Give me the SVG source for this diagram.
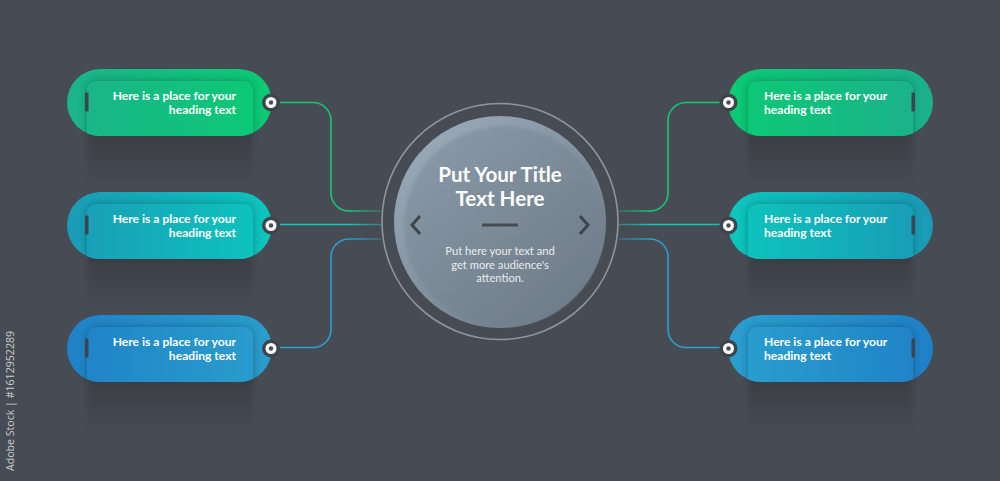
<svg xmlns="http://www.w3.org/2000/svg" width="1000" height="481" viewBox="0 0 1000 481">
  <style>
    .head { font-family: Lato, "Open Sans", "Liberation Sans", sans-serif; font-weight: 700; font-size: 12.1px; fill: #ffffff; }
    .title { font-family: Lato, "Open Sans", "Liberation Sans", sans-serif; font-weight: 700; font-size: 20.6px; fill: #ffffff; text-anchor: middle; }
    .body { font-family: Lato, "Open Sans", "Liberation Sans", sans-serif; font-weight: 400; font-size: 11.2px; fill: #e8ebee; text-anchor: middle; }
    .conn { fill: none; stroke-width: 1.6; }
    .bar { fill: #3e444d; }
    .ringo { fill: #3f444c; }
    .ringw { fill: #ffffff; }
    .ringi { fill: #474c54; }
    .stamp { font-family: "Open Sans", "Liberation Sans", sans-serif; font-size: 10.6px; fill: #c9cdd1; }
  </style>
  <defs>
    <linearGradient id="gL1" gradientUnits="userSpaceOnUse" x1="0" y1="0" x2="205" y2="0"><stop offset="0" stop-color="#1cb38b"/><stop offset="1" stop-color="#0bca74"/></linearGradient>
    <linearGradient id="gL2" gradientUnits="userSpaceOnUse" x1="0" y1="0" x2="205" y2="0"><stop offset="0" stop-color="#1a9cb7"/><stop offset="1" stop-color="#0cc6bd"/></linearGradient>
    <linearGradient id="gL3" gradientUnits="userSpaceOnUse" x1="0" y1="0" x2="205" y2="0"><stop offset="0" stop-color="#1f82c8"/><stop offset="1" stop-color="#2a9ecc"/></linearGradient>
    <linearGradient id="gR1" gradientUnits="userSpaceOnUse" x1="0" y1="0" x2="205" y2="0"><stop offset="0" stop-color="#0bca74"/><stop offset="1" stop-color="#1cb08d"/></linearGradient>
    <linearGradient id="gR2" gradientUnits="userSpaceOnUse" x1="0" y1="0" x2="205" y2="0"><stop offset="0" stop-color="#0cc7bd"/><stop offset="1" stop-color="#1a99b6"/></linearGradient>
    <linearGradient id="gR3" gradientUnits="userSpaceOnUse" x1="0" y1="0" x2="205" y2="0"><stop offset="0" stop-color="#2aa0cf"/><stop offset="1" stop-color="#1f80c7"/></linearGradient>
    <linearGradient id="under" x1="0" y1="0" x2="0" y2="1"><stop offset="0" stop-color="#000" stop-opacity="0.2"/><stop offset="1" stop-color="#000" stop-opacity="0"/></linearGradient>
    <clipPath id="pillClip"><rect x="0" y="0" width="205" height="67" rx="33.5"/></clipPath>
    <filter id="soft" x="-20%" y="-30%" width="140%" height="160%"><feGaussianBlur stdDeviation="3"/></filter>
    <filter id="soft2" x="-20%" y="-30%" width="140%" height="160%"><feGaussianBlur stdDeviation="4"/></filter>
    <filter id="blur1" x="-10%" y="-10%" width="120%" height="120%"><feGaussianBlur stdDeviation="1.5"/></filter>
    <linearGradient id="cGL" gradientUnits="userSpaceOnUse" x1="350" y1="0" x2="382" y2="0"><stop offset="0" stop-color="#13c775"/><stop offset="1" stop-color="#13c775" stop-opacity="0.35"/></linearGradient>
    <linearGradient id="cTL" gradientUnits="userSpaceOnUse" x1="350" y1="0" x2="382" y2="0"><stop offset="0" stop-color="#14c2bd"/><stop offset="1" stop-color="#14c2bd" stop-opacity="0.45"/></linearGradient>
    <linearGradient id="cBL" gradientUnits="userSpaceOnUse" x1="350" y1="0" x2="382" y2="0"><stop offset="0" stop-color="#2aa0cc"/><stop offset="1" stop-color="#2aa0cc" stop-opacity="0.35"/></linearGradient>
    <linearGradient id="cGR" gradientUnits="userSpaceOnUse" x1="650" y1="0" x2="618" y2="0"><stop offset="0" stop-color="#13c775"/><stop offset="1" stop-color="#13c775" stop-opacity="0.35"/></linearGradient>
    <linearGradient id="cTR" gradientUnits="userSpaceOnUse" x1="650" y1="0" x2="618" y2="0"><stop offset="0" stop-color="#14c2bd"/><stop offset="1" stop-color="#14c2bd" stop-opacity="0.45"/></linearGradient>
    <linearGradient id="cBR" gradientUnits="userSpaceOnUse" x1="650" y1="0" x2="618" y2="0"><stop offset="0" stop-color="#2aa0cc"/><stop offset="1" stop-color="#2aa0cc" stop-opacity="0.35"/></linearGradient>
    <linearGradient id="disk" x1="0.15" y1="0.1" x2="0.85" y2="0.9"><stop offset="0" stop-color="#98a8b6"/><stop offset="1" stop-color="#6e7b88"/></linearGradient>
    <linearGradient id="disk2" x1="0.15" y1="0.1" x2="0.85" y2="0.9"><stop offset="0" stop-color="#8797a5"/><stop offset="1" stop-color="#6f7c89"/></linearGradient>
  </defs>

  <rect x="0" y="0" width="1000" height="481" fill="#474b53"/>

  <g id="connectors">
    <path class="conn" stroke="url(#cGL)" d="M 280 102.5 H 313 A 18 18 0 0 1 331 120.5 V 193 A 18 18 0 0 0 349 211 H 381"/>
    <path class="conn" stroke="url(#cTL)" d="M 280 224.5 H 381"/>
    <path class="conn" stroke="url(#cBL)" d="M 280 347.5 H 313 A 18 18 0 0 0 331 329.5 V 257 A 18 18 0 0 1 349 239 H 381"/>
    <path class="conn" stroke="url(#cGR)" d="M 720 102.5 H 686 A 18 18 0 0 0 668 120.5 V 193 A 18 18 0 0 1 650 211 H 619"/>
    <path class="conn" stroke="url(#cTR)" d="M 720 224.5 H 619"/>
    <path class="conn" stroke="url(#cBR)" d="M 720 347.5 H 686 A 18 18 0 0 1 668 329.5 V 257 A 18 18 0 0 0 650 239 H 619"/>
  </g>

  <g id="center">
    <circle cx="500" cy="221.5" r="118" fill="none" stroke="#8e959e" stroke-width="1.6"/>
    <circle cx="500" cy="222" r="106" fill="url(#disk)"/>
    <circle cx="504" cy="226" r="100" fill="url(#disk2)" filter="url(#blur1)"/>
    <text class="title" x="500" y="182">Put Your Title</text>
    <text class="title" x="500" y="206">Text Here</text>
    <line x1="482" y1="225" x2="518" y2="225" stroke="#474c54" stroke-width="3"/>
    <polyline points="420,216 412,225 420,234" fill="none" stroke="#3f454d" stroke-width="3"/>
    <polyline points="580,216 588,225 580,234" fill="none" stroke="#3f454d" stroke-width="3"/>
    <text class="body" x="500" y="255">Put here your text and</text>
    <text class="body" x="500" y="268.5">get more audience's</text>
    <text class="body" x="500" y="282">attention.</text>
  </g>

  <g id="card-left-1" transform="translate(67,69)">
    <rect x="20" y="60" width="166" height="58" fill="url(#under)" filter="url(#soft)"/>
    <rect x="0" y="0" width="205" height="67" rx="33.5" fill="url(#gL1)"/>
    <g clip-path="url(#pillClip)">
      <rect x="20" y="12" width="166" height="70" rx="9" fill="#000" opacity="0.28" filter="url(#soft2)"/>
      <rect x="20" y="12" width="166" height="70" rx="9" fill="url(#gL1)"/>
    </g>
    <rect class="bar" x="18" y="23.5" width="3.5" height="19" rx="1"/>
    <text class="head" x="169" y="30.5" text-anchor="end">Here is a place for your</text>
    <text class="head" x="169" y="44.5" text-anchor="end">heading text</text>
    <circle class="ringo" cx="204" cy="33.5" r="9"/>
    <circle class="ringw" cx="204" cy="33.5" r="5.5"/>
    <circle class="ringi" cx="204" cy="33.5" r="2.2"/>
  </g>
  <g id="card-left-2" transform="translate(67,192)">
    <rect x="20" y="60" width="166" height="58" fill="url(#under)" filter="url(#soft)"/>
    <rect x="0" y="0" width="205" height="67" rx="33.5" fill="url(#gL2)"/>
    <g clip-path="url(#pillClip)">
      <rect x="20" y="12" width="166" height="70" rx="9" fill="#000" opacity="0.28" filter="url(#soft2)"/>
      <rect x="20" y="12" width="166" height="70" rx="9" fill="url(#gL2)"/>
    </g>
    <rect class="bar" x="18" y="23.5" width="3.5" height="19" rx="1"/>
    <text class="head" x="169" y="30.5" text-anchor="end">Here is a place for your</text>
    <text class="head" x="169" y="44.5" text-anchor="end">heading text</text>
    <circle class="ringo" cx="204" cy="33.5" r="9"/>
    <circle class="ringw" cx="204" cy="33.5" r="5.5"/>
    <circle class="ringi" cx="204" cy="33.5" r="2.2"/>
  </g>
  <g id="card-left-3" transform="translate(67,315)">
    <rect x="20" y="60" width="166" height="58" fill="url(#under)" filter="url(#soft)"/>
    <rect x="0" y="0" width="205" height="67" rx="33.5" fill="url(#gL3)"/>
    <g clip-path="url(#pillClip)">
      <rect x="20" y="12" width="166" height="70" rx="9" fill="#000" opacity="0.28" filter="url(#soft2)"/>
      <rect x="20" y="12" width="166" height="70" rx="9" fill="url(#gL3)"/>
    </g>
    <rect class="bar" x="18" y="23.5" width="3.5" height="19" rx="1"/>
    <text class="head" x="169" y="30.5" text-anchor="end">Here is a place for your</text>
    <text class="head" x="169" y="44.5" text-anchor="end">heading text</text>
    <circle class="ringo" cx="204" cy="33.5" r="9"/>
    <circle class="ringw" cx="204" cy="33.5" r="5.5"/>
    <circle class="ringi" cx="204" cy="33.5" r="2.2"/>
  </g>

  <g id="card-right-1" transform="translate(728,69)">
    <rect x="20" y="60" width="165" height="58" fill="url(#under)" filter="url(#soft)"/>
    <rect x="0" y="0" width="205" height="67" rx="33.5" fill="url(#gR1)"/>
    <g clip-path="url(#pillClip)">
      <rect x="20" y="12" width="165" height="70" rx="9" fill="#000" opacity="0.28" filter="url(#soft2)"/>
      <rect x="20" y="12" width="165" height="70" rx="9" fill="url(#gR1)"/>
    </g>
    <rect class="bar" x="183.5" y="23.5" width="3.5" height="19" rx="1"/>
    <text class="head" x="36" y="30.5">Here is a place for your</text>
    <text class="head" x="36" y="44.5">heading text</text>
    <circle class="ringo" cx="0.5" cy="33.5" r="9"/>
    <circle class="ringw" cx="0.5" cy="33.5" r="5.5"/>
    <circle class="ringi" cx="0.5" cy="33.5" r="2.2"/>
  </g>
  <g id="card-right-2" transform="translate(728,192)">
    <rect x="20" y="60" width="165" height="58" fill="url(#under)" filter="url(#soft)"/>
    <rect x="0" y="0" width="205" height="67" rx="33.5" fill="url(#gR2)"/>
    <g clip-path="url(#pillClip)">
      <rect x="20" y="12" width="165" height="70" rx="9" fill="#000" opacity="0.28" filter="url(#soft2)"/>
      <rect x="20" y="12" width="165" height="70" rx="9" fill="url(#gR2)"/>
    </g>
    <rect class="bar" x="183.5" y="23.5" width="3.5" height="19" rx="1"/>
    <text class="head" x="36" y="30.5">Here is a place for your</text>
    <text class="head" x="36" y="44.5">heading text</text>
    <circle class="ringo" cx="0.5" cy="33.5" r="9"/>
    <circle class="ringw" cx="0.5" cy="33.5" r="5.5"/>
    <circle class="ringi" cx="0.5" cy="33.5" r="2.2"/>
  </g>
  <g id="card-right-3" transform="translate(728,315)">
    <rect x="20" y="60" width="165" height="58" fill="url(#under)" filter="url(#soft)"/>
    <rect x="0" y="0" width="205" height="67" rx="33.5" fill="url(#gR3)"/>
    <g clip-path="url(#pillClip)">
      <rect x="20" y="12" width="165" height="70" rx="9" fill="#000" opacity="0.28" filter="url(#soft2)"/>
      <rect x="20" y="12" width="165" height="70" rx="9" fill="url(#gR3)"/>
    </g>
    <rect class="bar" x="183.5" y="23.5" width="3.5" height="19" rx="1"/>
    <text class="head" x="36" y="30.5">Here is a place for your</text>
    <text class="head" x="36" y="44.5">heading text</text>
    <circle class="ringo" cx="0.5" cy="33.5" r="9"/>
    <circle class="ringw" cx="0.5" cy="33.5" r="5.5"/>
    <circle class="ringi" cx="0.5" cy="33.5" r="2.2"/>
  </g>

  <text class="stamp" transform="translate(14,471) rotate(-90)">Adobe Stock | #1612952289</text>
</svg>
